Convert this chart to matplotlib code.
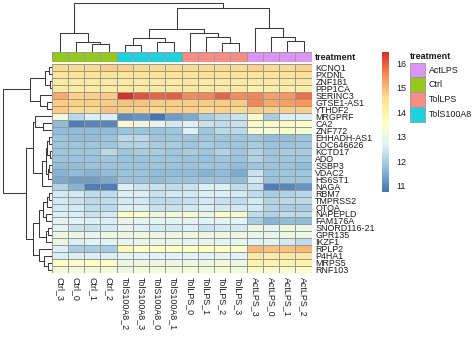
import numpy as np
import matplotlib
matplotlib.use("Agg")
import matplotlib.pyplot as plt
from matplotlib.colors import LinearSegmentedColormap, ListedColormap
from matplotlib.patches import Rectangle

plt.rcParams['font.family'] = ['Liberation Sans', 'DejaVu Sans']

samples = ["Ctrl_3", "Ctrl_0", "Ctrl_1", "Ctrl_2",
           "TolS100A8_2", "TolS100A8_3", "TolS100A8_0", "TolS100A8_1",
           "TolLPS_0", "TolLPS_1", "TolLPS_2", "TolLPS_3",
           "ActLPS_3", "ActLPS_0", "ActLPS_1", "ActLPS_2"]
treatment = ["Ctrl"] * 4 + ["TolS100A8"] * 4 + ["TolLPS"] * 4 + ["ActLPS"] * 4
levels = ["ActLPS", "Ctrl", "TolLPS", "TolS100A8"]
level_colors = ["#DC95F5", "#94C81A", "#F98D84", "#1DD3DE"]

genes = ["KCNQ1", "PXDNL", "ZNF181", "PPP1CA", "SERINC3", "GTSE1-AS1", "YTHDF2",
         "MRGPRF", "CA2", "ZNF772", "EHHADH-AS1", "LOC646626", "KCTD17", "ADO",
         "SSBP3", "VDAC2", "HS6ST1", "NAGA", "RBM7", "TMPRSS2", "OTOA", "NAPEPLD",
         "FAM176A", "SNORD116-21", "GPR135", "IKZF1", "RPLP2", "P4HA1", "MRPS5", "RNF103"]

expr = np.array([
    [14.6, 14.6, 14.6, 14.8, 14.7, 14.6, 14.6, 14.6, 14.6, 14.6, 14.6, 14.6, 14.7, 14.6, 14.6, 14.7],
    [14.4, 14.4, 14.4, 14.4, 14.4, 14.4, 14.4, 14.4, 14.4, 14.5, 14.4, 14.4, 14.4, 14.4, 14.4, 14.5],
    [14.3, 14.3, 14.2, 14.3, 14.3, 14.3, 14.3, 14.3, 14.3, 14.3, 14.3, 14.3, 14.2, 14.2, 14.3, 14.3],
    [14.2, 14.2, 14.2, 14.2, 14.2, 14.2, 14.2, 14.2, 14.3, 14.2, 14.2, 14.2, 14.0, 14.1, 14.1, 14.1],
    [15.2, 14.7, 14.7, 14.8, 16.47, 16.1, 15.9, 16.0, 15.5, 15.6, 15.9, 15.5, 15.6, 15.3, 15.4, 15.8],
    [14.8, 14.7, 14.7, 14.8, 14.9, 14.9, 14.8, 14.8, 14.8, 14.8, 14.8, 14.8, 15.6, 15.2, 15.3, 15.4],
    [14.8, 14.6, 14.6, 14.9, 14.7, 14.7, 14.6, 14.7, 14.7, 14.6, 14.7, 14.6, 14.7, 14.7, 14.8, 14.8],
    [13.2, 12.2, 12.6, 12.6, 11.1, 11.2, 10.76, 11.3, 11.5, 12.0, 12.2, 12.4, 13.5, 12.0, 12.6, 12.6],
    [11.7, 10.9, 11.0, 11.0, 13.3, 13.1, 12.8, 12.5, 12.6, 12.4, 12.3, 12.4, 13.5, 13.5, 13.5, 13.6],
    [11.7, 11.7, 11.7, 11.7, 11.8, 11.8, 11.8, 11.9, 12.6, 11.9, 12.2, 12.2, 13.3, 13.3, 13.4, 13.3],
    [11.8, 11.7, 11.7, 11.8, 12.2, 12.2, 11.9, 11.9, 11.9, 11.9, 11.9, 11.9, 11.9, 11.7, 11.7, 11.8],
    [11.9, 11.9, 11.9, 11.9, 12.1, 12.1, 12.0, 12.0, 11.9, 12.0, 11.9, 11.9, 12.0, 11.8, 11.8, 11.9],
    [11.9, 11.9, 11.9, 12.2, 11.9, 12.0, 12.0, 11.9, 12.0, 11.9, 12.1, 11.9, 12.1, 11.9, 12.0, 12.0],
    [11.8, 11.8, 11.8, 11.9, 11.8, 11.8, 11.9, 11.9, 11.8, 11.8, 11.9, 11.8, 12.1, 11.9, 11.9, 11.9],
    [11.7, 11.7, 11.8, 11.8, 11.8, 11.8, 11.9, 11.8, 11.8, 11.9, 11.8, 11.7, 11.9, 11.8, 11.8, 11.7],
    [11.6, 11.7, 11.6, 11.7, 11.8, 11.8, 11.7, 11.7, 11.7, 11.6, 11.7, 11.5, 12.4, 11.8, 11.9, 11.9],
    [11.5, 11.3, 11.3, 11.5, 11.8, 11.8, 11.7, 11.8, 11.8, 11.8, 11.8, 11.7, 12.5, 11.8, 11.9, 11.9],
    [12.1, 11.6, 10.9, 10.9, 12.6, 12.4, 12.4, 12.3, 12.4, 12.6, 12.6, 12.3, 12.4, 10.9, 11.0, 11.2],
    [12.5, 12.5, 12.3, 12.3, 12.6, 12.6, 12.4, 12.5, 12.5, 12.6, 12.6, 12.5, 12.3, 12.0, 12.1, 12.2],
    [12.5, 12.4, 12.2, 12.3, 12.5, 12.5, 12.3, 12.3, 12.4, 12.5, 12.4, 12.3, 12.5, 12.1, 12.2, 12.2],
    [12.5, 12.5, 12.3, 12.2, 12.6, 12.6, 12.4, 12.4, 12.5, 12.6, 12.5, 12.5, 12.5, 12.1, 12.0, 12.0],
    [12.6, 12.6, 12.4, 12.5, 13.6, 13.5, 13.1, 13.2, 13.3, 13.0, 13.5, 13.4, 12.3, 12.1, 12.3, 12.2],
    [12.8, 12.7, 12.6, 12.6, 12.9, 12.8, 12.8, 12.8, 12.8, 12.7, 12.8, 12.7, 12.0, 11.6, 11.7, 11.7],
    [12.7, 12.4, 12.4, 12.5, 12.8, 12.6, 12.5, 12.5, 12.6, 12.4, 12.5, 12.5, 13.0, 12.8, 13.1, 13.0],
    [13.1, 13.0, 12.9, 13.1, 13.0, 13.1, 13.0, 13.0, 13.1, 13.0, 13.1, 13.0, 12.9, 12.9, 13.1, 13.1],
    [13.0, 12.6, 12.7, 12.7, 12.9, 12.9, 12.9, 12.9, 12.8, 12.9, 12.8, 12.9, 12.7, 12.8, 12.5, 12.3],
    [12.6, 12.0, 12.0, 12.0, 13.8, 13.6, 13.6, 13.6, 13.6, 13.6, 13.6, 13.5, 15.0, 14.9, 14.9, 15.0],
    [12.6, 12.6, 12.6, 12.6, 12.8, 12.7, 12.7, 12.7, 12.7, 12.7, 12.8, 12.7, 14.3, 14.2, 14.3, 14.3],
    [13.6, 13.5, 13.6, 13.6, 13.1, 13.1, 13.1, 13.1, 13.1, 13.1, 13.2, 13.1, 14.0, 14.0, 14.0, 14.1],
    [13.2, 13.2, 13.2, 13.2, 13.1, 13.2, 13.2, 13.2, 13.3, 13.2, 13.3, 13.2, 13.5, 13.5, 13.5, 13.5],
])

# merges like a linkage matrix: (child a, child b, height); new cluster ids start at n
col_merges = [(2, 3, 7.0), (1, 16, 9.3), (0, 17, 17.7), (4, 5, 6.0), (6, 7, 9.3),
              (19, 20, 12.7), (10, 11, 8.3), (9, 22, 13.7), (8, 23, 17.7), (21, 24, 21.7),
              (14, 15, 10.0), (13, 26, 13.7), (12, 27, 22.7), (25, 28, 42.7), (18, 29, 48.3)]
row_merges = [(0, 1, 2.0), (2, 3, 1.5), (30, 31, 6.0), (5, 6, 4.0), (4, 33, 11.0),
              (32, 34, 21.0), (8, 9, 8.0), (7, 36, 16.0), (10, 11, 2.0), (12, 13, 1.5),
              (38, 39, 4.0), (14, 15, 2.0), (41, 16, 3.5), (40, 42, 5.5), (43, 17, 9.0),
              (37, 44, 18.0), (18, 19, 2.5), (46, 20, 4.5), (21, 22, 5.0), (47, 48, 8.0),
              (23, 24, 3.0), (50, 25, 5.0), (49, 51, 12.0), (28, 29, 3.5), (27, 53, 7.0),
              (26, 54, 12.0), (52, 55, 18.0), (45, 56, 25.0), (35, 57, 48.0)]
cbar_ticks = [11, 12, 13, 14, 15, 16]

W, H = 474, 338
fig = plt.figure(figsize=(W / 100, H / 100), dpi=100)
fig.patch.set_facecolor("white")


def px_axes(x0, y0, x1, y1):
    return fig.add_axes([x0 / W, 1 - y1 / H, (x1 - x0) / W, (y1 - y0) / H])


def draw_dendro(ax, merges, n, top):
    pos = {i: i + 0.5 for i in range(n)}
    hgt = {i: 0.0 for i in range(n)}
    for k, (a, b, h) in enumerate(merges):
        p = [pos[a], pos[a], pos[b], pos[b]]
        q = [hgt[a], h, h, hgt[b]]
        if top:
            ax.plot(p, q, color="#3a3a3a", lw=0.75, clip_on=False)
        else:
            ax.plot(q, p, color="#3a3a3a", lw=0.75, clip_on=False)
        pos[n + k] = (pos[a] + pos[b]) / 2
        hgt[n + k] = h


cols7 = ["#4575B4", "#91BFDB", "#E0F3F8", "#FFFFBF", "#FEE090", "#FC8D59", "#D73027"]
cmap = LinearSegmentedColormap.from_list("rdylbu", cols7, N=100)
vmin, vmax = expr.min(), expr.max()
nr, nc = expr.shape
txt = "#1a1a1a"
fs = 6.4

# heatmap
ax = px_axes(51.7, 64, 311.7, 273.3)
ax.pcolormesh(expr, cmap=cmap, vmin=vmin, vmax=vmax, edgecolors="#999999", linewidth=0.6)
ax.set_xlim(0, nc)
ax.set_ylim(nr, 0)
ax.yaxis.tick_right()
ax.set_yticks(np.arange(nr) + 0.5)
ax.set_yticklabels(genes, fontsize=fs, color=txt)
ax.set_xticks(np.arange(nc) + 0.5)
ax.set_xticklabels(samples, fontsize=fs, color=txt, rotation=270, va="top", ha="center")
ax.tick_params(length=0, pad=2.6)
for s in ax.spines.values():
    s.set_visible(False)

# annotation bar
axa = px_axes(51.7, 51.7, 311.7, 61.7)
codes = np.array([[levels.index(t) for t in treatment]])
axa.pcolormesh(codes, cmap=ListedColormap(level_colors), vmin=-0.5, vmax=3.5,
               edgecolors="#999999", linewidth=0.6)
axa.set_xlim(0, nc)
axa.set_ylim(1, 0)
axa.set_xticks([])
axa.yaxis.tick_right()
axa.set_yticks([0.5])
axa.set_yticklabels(["treatment"], fontsize=fs, fontweight="bold", color=txt)
axa.tick_params(length=0, pad=2.6)
for s in axa.spines.values():
    s.set_visible(False)

# column dendrogram
axc = px_axes(51.7, 0, 311.7, 51)
draw_dendro(axc, col_merges, nc, True)
axc.set_xlim(0, nc)
axc.set_ylim(0, 51)
axc.axis("off")

# row dendrogram
axr = px_axes(0, 64, 51, 273.3)
draw_dendro(axr, row_merges, nr, False)
axr.set_ylim(nr, 0)
axr.set_xlim(51, 0)
axr.axis("off")

# colour legend
axb = px_axes(381.7, 51.7, 389.3, 191.7)
grad = np.linspace(vmin, vmax, 101)
axb.pcolormesh([0, 1], grad, ((grad[:-1] + grad[1:]) / 2)[:, None], cmap=cmap,
               vmin=vmin, vmax=vmax)
axb.set_ylim(vmin, vmax)
axb.set_xticks([])
axb.yaxis.tick_right()
axb.set_yticks(cbar_ticks)
axb.set_yticklabels([str(t) for t in cbar_ticks], fontsize=fs, color=txt)
axb.tick_params(length=0, pad=5)
for s in axb.spines.values():
    s.set_visible(False)

# annotation legend
axl = px_axes(0, 0, W, H)
axl.set_xlim(0, W)
axl.set_ylim(H, 0)
axl.axis("off")
axl.text(410, 56.7, "treatment", fontsize=fs, fontweight="bold", color=txt, va="center", ha="left")
for i, (lev, colr) in enumerate(zip(levels, level_colors)):
    y0 = 62.7 + i * 14.7
    axl.add_patch(Rectangle((410, y0), 15, 14.7, facecolor=colr, edgecolor="#999999", lw=0.6))
    axl.text(428.5, y0 + 7.35, lev, fontsize=fs, color=txt, va="center", ha="left")

fig.savefig("out.png", dpi=100, facecolor="white")
